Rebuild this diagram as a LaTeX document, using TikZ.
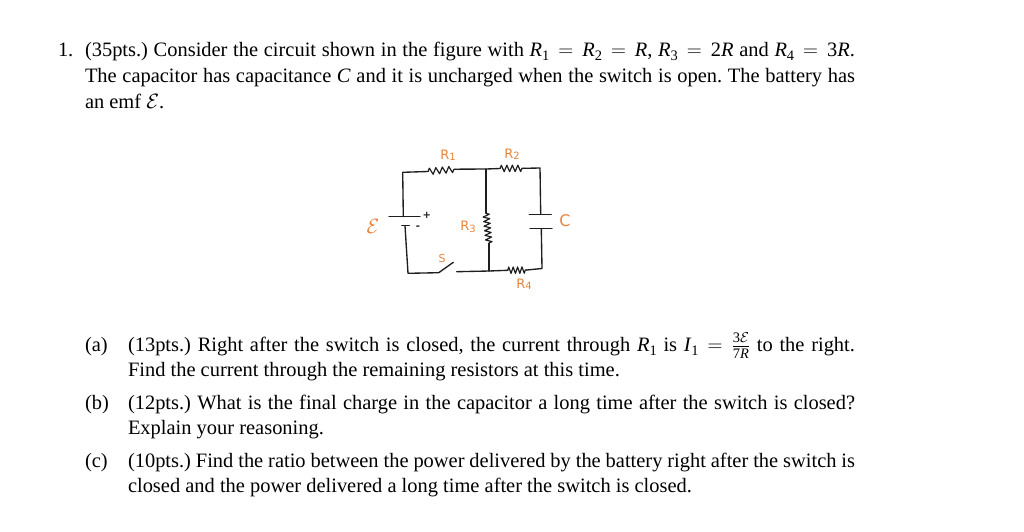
\documentclass[tikz,border=0pt]{standalone}
\usepackage{fontspec}
\setmainfont{Liberation Serif}
\usetikzlibrary{decorations.pathmorphing}
\newfontfamily\handfont{DejaVu Sans}
\definecolor{handorange}{HTML}{E8843C}
\definecolor{inkblack}{HTML}{1E1E1E}
\frenchspacing
\newcommand{\Rn}[1]{\textit{R}\textsubscript{#1}}
\newcommand{\Rs}{\textit{R}}
\newcommand{\emfE}{$\mathcal{E}$}
\newcommand{\eqs}{\hspace{9pt}$=$\hspace{9pt}}
\newcommand{\fracIE}{$\frac{\mbox{\fontsize{14.5}{14.5}\selectfont 3}\mathcal{E}}{\mbox{\fontsize{14.5}{14.5}\selectfont 7\textit{R}}}$}
\renewcommand{\textsubscript}[1]{\raisebox{-0.2em}{\fontsize{14.5}{14.5}\selectfont #1}}
\newcommand{\lab}[1]{R\raisebox{-0.1em}{\fontsize{10}{10}\selectfont #1}}
\tikzset{
  x=1pt,y=-1pt,
  txt/.style={anchor=base west,inner sep=0pt,outer sep=0pt,text=black,font=\fontsize{20.45}{26}\selectfont},
  wire/.style={draw=inkblack,line width=1.35pt,line cap=round,line join=round},
  res/.style={wire,line width=1.2pt,decorate,decoration={zigzag,amplitude=3.2pt,segment length=#1}},
  hand/.style={inner sep=0pt,outer sep=0pt,text=handorange,font=\handfont\fontsize{13}{13}\selectfont},
  pol/.style={inner sep=0pt,outer sep=0pt,text=inkblack,font=\handfont\bfseries\fontsize{10}{10}\selectfont},
}
\begin{document}
\begin{tikzpicture}
\useasboundingbox (0,0) rectangle (1024,531);
\node[txt] (n1) at (58,56.5) {1.};
\node[txt] (l1) at (85,56.5) {\hbox to 770pt{(35pts.) Consider the circuit shown in the figure with \Rn{1}\eqs\Rn{2}\eqs\Rs, \Rn{3}\eqs 2\Rs{} and \Rn{4}\eqs 3\Rs.}};
\node[txt] (l2) at (85,82.5) {\hbox to 770pt{The capacitor has capacitance \textit{C} and it is uncharged when the switch is open. The battery has}};
\node[txt] (l3) at (85,108.5) {an emf \emfE.};
\node[txt] (a0) at (85,351) {(a)};
\node[txt] (a1) at (128,351) {\hbox to 727pt{(13pts.) Right after the switch is closed, the current through \Rn{1} is \textit{I}\textsubscript{1}\eqs\fracIE{} to the right.}};
\node[txt] (a2) at (128,376.5) {Find the current through the remaining resistors at this time.};
\node[txt] (b0) at (85,409) {(b)};
\node[txt] (b1) at (128,409) {\hbox to 727pt{(12pts.) What is the final charge in the capacitor a long time after the switch is closed?}};
\node[txt] (b2) at (128,434.5) {Explain your reasoning.};
\node[txt] (c0) at (85,467) {(c)};
\node[txt] (c1) at (128,467) {\hbox to 727pt{(10pts.) Find the ratio between the power delivered by the battery right after the switch is}};
\node[txt] (c2) at (128,492.5) {closed and the power delivered a long time after the switch is closed.};
% circuit points
\coordinate (tl) at (402.7,172.3);
\coordinate (r1a) at (428,171.5);
\coordinate (r1b) at (455,169.2);
\coordinate (jt) at (486,169);
\coordinate (r2a) at (500,168.5);
\coordinate (r2b) at (524,168.3);
\coordinate (tr) at (540,168);
\coordinate (capt) at (540.7,214.3);
\coordinate (capb) at (541.3,228.6);
\coordinate (br) at (542,268.5);
\coordinate (r4b) at (526.7,270);
\coordinate (r4a) at (507.7,270.3);
\coordinate (jb) at (489,271);
\coordinate (swc) at (456.7,271.7);
\coordinate (swh) at (438.7,272.7);
\coordinate (swt) at (453.3,262.3);
\coordinate (bl) at (408,273.3);
\coordinate (batm) at (405,225.7);
\coordinate (batp) at (403.3,216.7);
\coordinate (r3a) at (486,213.3);
\coordinate (r3b) at (489,243.3);
% wires
\draw[wire] (batp) -- (tl) -- (r1a);
\draw[wire] (r1b) -- (jt) -- (r2a);
\draw[wire] (r2b) -- (tr) -- (capt);
\draw[wire] (capb) -- (br) -- (r4b);
\draw[wire] (r4a) -- (jb) -- (swc);
\draw[wire] (jt) -- (r3a);
\draw[wire] (r3b) -- (jb);
\draw[wire] (batm) -- (bl) -- (swh) -- (swt);
% resistors
\draw[res=6.5pt] (r1a) -- (r1b);
\draw[res=5.5pt] (r2a) -- (r2b);
\draw[res=4.6pt] (r3a) -- (r3b);
\draw[res=4.4pt] (r4a) -- (r4b);
% plates
\draw[wire] (389,216.7) -- (420,216.7);
\draw[wire] (401.7,225.7) -- (409.3,225.7);
\draw[wire] (529.3,214.3) -- (551.3,214.3);
\draw[wire] (530,228.3) -- (552,228.3);
% labels
\node[hand] (lr1) at (448,155) {\lab{1}};
\node[hand] (lr2) at (512,154) {\lab{2}};
\node[hand] (lr3) at (468,226.7) {\lab{3}};
\node[hand] (lr4) at (524,284) {\lab{4}};
\node[hand,font=\fontsize{22}{22}\selectfont] (lemf) at (373,226) {$\mathcal{E}$};
\node[hand,font=\handfont\fontsize{16}{16}\selectfont] (lc) at (565,221) {C};
\node[hand,font=\handfont\fontsize{11}{11}\selectfont] (ls) at (442,258) {S};
\node[pol] (lplus) at (426.7,215) {+};
\node[pol] (lminus) at (418,227.7) {-};
\end{tikzpicture}
\end{document}
